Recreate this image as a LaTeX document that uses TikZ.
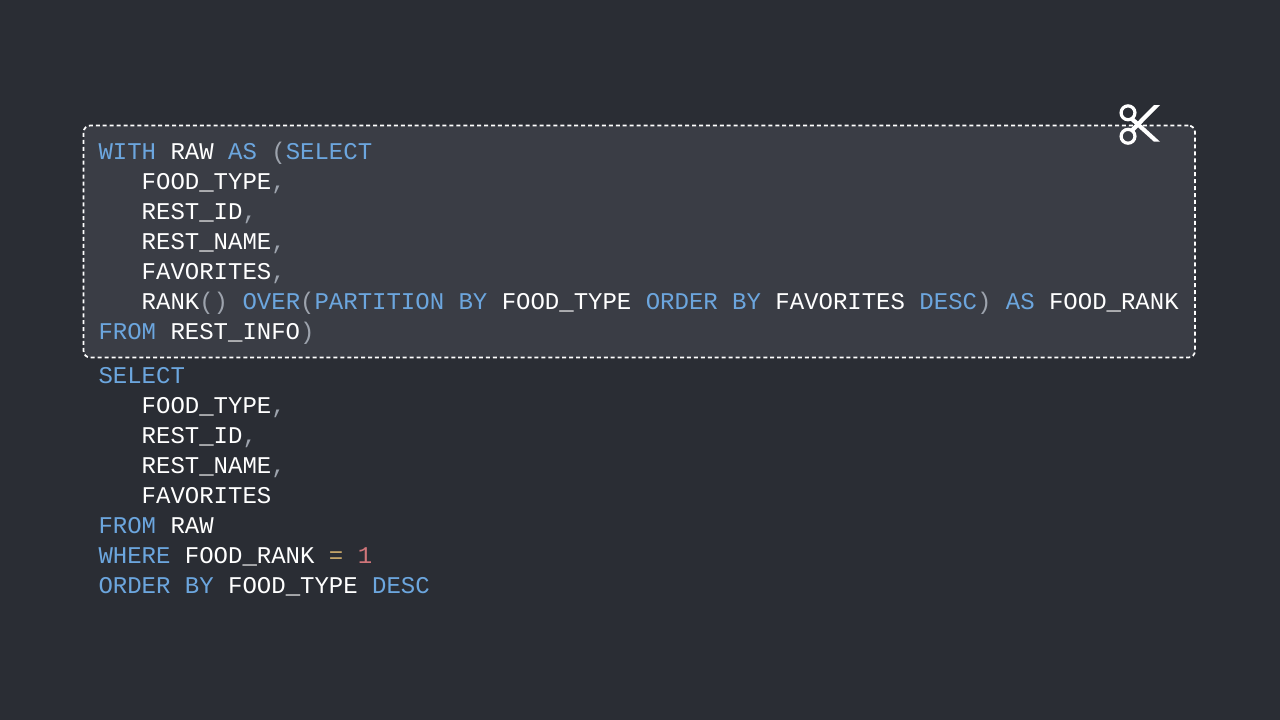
\documentclass[tikz,border=0pt]{standalone}
\usepackage{fontspec}
\usepackage{xcolor}
\setmonofont{Liberation Mono}
\definecolor{bgdark}{HTML}{2A2D34}
\definecolor{boxfill}{HTML}{3A3D45}
\definecolor{kwblue}{HTML}{6CA6DE}
\definecolor{punct}{HTML}{9DA3AD}
\definecolor{opyellow}{HTML}{C9A86A}
\definecolor{numred}{HTML}{D0757A}
\newcommand{\kw}[1]{\textcolor{kwblue}{#1}}
\newcommand{\pn}[1]{\textcolor{punct}{#1}}
\begin{document}
\begin{tikzpicture}[
        x=1pt, y=-1pt,
        codeline/.style={anchor=base west, inner sep=0pt, text=white, font=\ttfamily\fontsize{18}{20}\selectfont},
        cutbox/.style={draw=white, fill=boxfill, dash pattern=on 3pt off 2.2pt, line width=1.3pt, rounded corners=5pt},
    ]
    \fill[bgdark] (0,0) rectangle (960,540);
    \useasboundingbox (0,0) rectangle (960,540);
    \node[cutbox, minimum width=833.6pt, minimum height=174pt, anchor=north west, inner sep=0pt] (cutarea) at (62,93.5) {};
    % upper block
    \node[codeline] (l1) at (73.7,119.4) {\kw{WITH} RAW \kw{AS} \pn{(}\kw{SELECT}};
    \node[codeline] (l2) at (106.1,141.9) {FOOD\_TYPE\pn{,}};
    \node[codeline] (l3) at (106.1,164.4) {REST\_ID\pn{,}};
    \node[codeline] (l4) at (106.1,186.9) {REST\_NAME\pn{,}};
    \node[codeline] (l5) at (106.1,209.4) {FAVORITES\pn{,}};
    \node[codeline] (l6) at (106.1,231.9) {RANK\pn{()} \kw{OVER}\pn{(}\kw{PARTITION BY} FOOD\_TYPE \kw{ORDER BY} FAVORITES \kw{DESC}\pn{)} \kw{AS} FOOD\_RANK};
    \node[codeline] (l7) at (73.7,254.4) {\kw{FROM} REST\_INFO\pn{)}};
    % lower block
    \node[codeline] (m1) at (73.7,287.4) {\kw{SELECT}};
    \node[codeline] (m2) at (106.1,309.9) {FOOD\_TYPE\pn{,}};
    \node[codeline] (m3) at (106.1,332.4) {REST\_ID\pn{,}};
    \node[codeline] (m4) at (106.1,354.9) {REST\_NAME\pn{,}};
    \node[codeline] (m5) at (106.1,377.4) {FAVORITES};
    \node[codeline] (m6) at (73.7,399.9) {\kw{FROM} RAW};
    \node[codeline] (m7) at (73.7,422.4) {\kw{WHERE} FOOD\_RANK \textcolor{opyellow}{=} \textcolor{numred}{1}};
    \node[codeline] (m8) at (73.7,444.9) {\kw{ORDER BY} FOOD\_TYPE \kw{DESC}};
    % scissors
    \draw[white, line width=2.4pt] (846,84.6) circle (5.2pt) (846,102.2) circle (5.2pt);
    \fill[white] (850,88) -- (870,106.3) -- (865.5,106.3) -- (848,90.5) -- cycle;
    \fill[white] (850,99) -- (870,78.8) -- (865.5,78.8) -- (848,96.5) -- cycle;
\end{tikzpicture}
\end{document}
